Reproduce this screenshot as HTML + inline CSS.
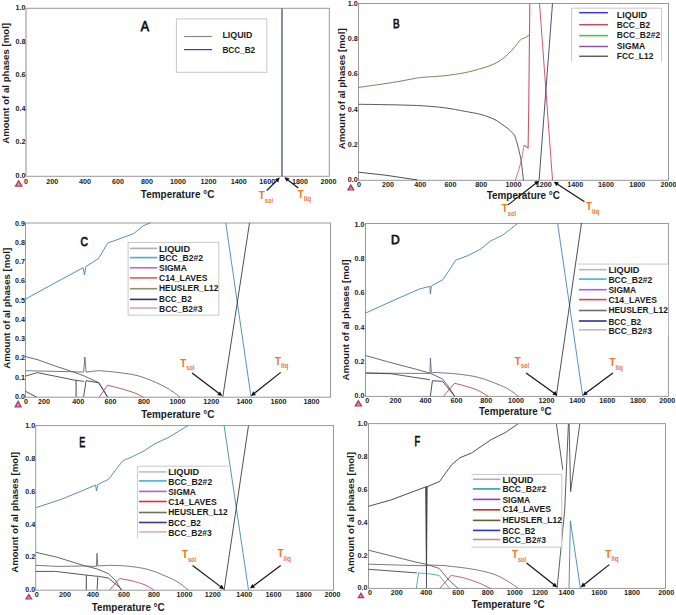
<!DOCTYPE html>
<html><head><meta charset="utf-8"><style>
html,body{margin:0;padding:0;background:#fff;width:676px;height:615px;overflow:hidden;position:relative;font-family:"Liberation Sans", sans-serif}
</style></head><body>
<svg width="676" height="615" viewBox="0 0 676 615" style="position:absolute;left:0;top:0;font-family:'Liberation Sans', sans-serif">
<rect width="676" height="615" fill="#fff"/>
<rect x="26" y="8.3" width="303.3" height="168.0" fill="none" stroke="#999999" stroke-width="1"/>
<line x1="26" y1="8.8" x2="26" y2="175.8" stroke="#c6c6c6" stroke-width="1.8"/>
<text x="25.5" y="10.25" font-size="7.2" text-anchor="end" font-weight="bold" fill="#222">1.0</text>
<text x="25.5" y="43.79" font-size="7.2" text-anchor="end" font-weight="bold" fill="#222">0.8</text>
<text x="25.5" y="77.33" font-size="7.2" text-anchor="end" font-weight="bold" fill="#222">0.6</text>
<text x="25.5" y="110.87" font-size="7.2" text-anchor="end" font-weight="bold" fill="#222">0.4</text>
<text x="25.5" y="144.41" font-size="7.2" text-anchor="end" font-weight="bold" fill="#222">0.2</text>
<text x="25.5" y="177.95" font-size="7.2" text-anchor="end" font-weight="bold" fill="#222">0.0</text>
<text x="26" y="183.75" font-size="7.2" text-anchor="middle" font-weight="bold" fill="#222">0</text>
<text x="52.2" y="183.75" font-size="7.2" text-anchor="middle" font-weight="bold" fill="#222">200</text>
<text x="85.1" y="183.75" font-size="7.2" text-anchor="middle" font-weight="bold" fill="#222">400</text>
<text x="118" y="183.75" font-size="7.2" text-anchor="middle" font-weight="bold" fill="#222">600</text>
<text x="147.1" y="183.75" font-size="7.2" text-anchor="middle" font-weight="bold" fill="#222">800</text>
<text x="178" y="183.75" font-size="7.2" text-anchor="middle" font-weight="bold" fill="#222">1000</text>
<text x="208.5" y="183.75" font-size="7.2" text-anchor="middle" font-weight="bold" fill="#222">1200</text>
<text x="238.7" y="183.75" font-size="7.2" text-anchor="middle" font-weight="bold" fill="#222">1400</text>
<text x="267.3" y="183.75" font-size="7.2" text-anchor="middle" font-weight="bold" fill="#222">1600</text>
<text x="300" y="183.75" font-size="7.2" text-anchor="middle" font-weight="bold" fill="#222">1800</text>
<text x="328.5" y="183.75" font-size="7.2" text-anchor="middle" font-weight="bold" fill="#222">2000</text>
<text transform="translate(9,83.4) rotate(-90)" x="0" y="0" font-size="9.3" text-anchor="middle" font-weight="bold" fill="#1a1a1a" textLength="120.8" lengthAdjust="spacingAndGlyphs">Amount of al phases [mol]</text>
<text x="140.8" y="197.6" font-size="10.2" text-anchor="start" font-weight="bold" fill="#1a1a1a" textLength="73.6" lengthAdjust="spacingAndGlyphs">Temperature °C</text>
<text x="140.7" y="30.7" font-size="14.24" text-anchor="start" font-weight="normal" fill="#111" textLength="8.3" lengthAdjust="spacingAndGlyphs" stroke="#111" stroke-width="0.75">A</text>
<rect x="176.4" y="18.9" width="90.4" height="53.4" fill="#fff" stroke="none"/>
<rect x="176.4" y="18.9" width="90.4" height="53.4" fill="none" stroke="#c8c8c8" stroke-width="1"/>
<line x1="184.1" y1="36.5" x2="212" y2="36.5" stroke="#8a8a8a" stroke-width="1.2"/>
<text x="222.4" y="37.8" font-size="9.5" text-anchor="start" font-weight="bold" fill="#1a1a1a" textLength="30" lengthAdjust="spacingAndGlyphs">LIQUID</text>
<line x1="184.1" y1="49.6" x2="212" y2="49.6" stroke="#3838c0" stroke-width="1.2"/>
<text x="222.4" y="52.8" font-size="9.5" text-anchor="start" font-weight="bold" fill="#1a1a1a" textLength="32.7" lengthAdjust="spacingAndGlyphs">BCC_B2</text>
<line x1="282" y1="8.3" x2="282" y2="176.3" stroke="#8a8aa8" stroke-width="1.5"/>
<line x1="282" y1="8.3" x2="282" y2="176.3" stroke="#5a5a90" stroke-width="0.7"/>
<polygon points="18.7,179.4 23,186.7 14.4,186.7" fill="#a83c5c"/>
<polygon points="18.7,182.0 20.7,185.6 16.7,185.6" fill="#dc9ab0"/>
<text x="258.7" y="199.20000000000002" font-size="11.39" text-anchor="start" font-weight="bold" fill="#e87a28" textLength="6.0" lengthAdjust="spacingAndGlyphs" stroke="#e87a28" stroke-width="0.12">T</text>
<text x="264.7" y="202.8" font-size="6.8" text-anchor="start" font-weight="bold" fill="#e87a28" textLength="8.3" lengthAdjust="spacingAndGlyphs">sol</text>
<text x="297.7" y="197.60000000000002" font-size="11.39" text-anchor="start" font-weight="bold" fill="#e87a28" textLength="6.0" lengthAdjust="spacingAndGlyphs" stroke="#e87a28" stroke-width="0.12">T</text>
<text x="303.7" y="201.20000000000002" font-size="6.8" text-anchor="start" font-weight="bold" fill="#e87a28" textLength="7.5" lengthAdjust="spacingAndGlyphs">liq</text>
<line x1="266.8" y1="190.5" x2="277.2446061234897" y2="180.1357370005372" stroke="#151515" stroke-width="1.2"/>
<polygon points="279.8,177.6 278.15482868591334,182.47272114401247 274.91472029633803,179.20749563513814" fill="#111"/>
<line x1="298.3" y1="188" x2="287.2427688684517" y2="179.40877005606322" stroke="#151515" stroke-width="1.2"/>
<polygon points="284.4,177.2 289.44358553439537,178.2061038501255 286.62126824053684,181.8385307375916" fill="#111"/>
<rect x="358.5" y="3.5" width="310.0" height="176.8" fill="none" stroke="#999999" stroke-width="1"/>
<text x="357.8" y="5.75" font-size="7.2" text-anchor="end" font-weight="bold" fill="#222">1.0</text>
<text x="357.8" y="41.09" font-size="7.2" text-anchor="end" font-weight="bold" fill="#222">0.8</text>
<text x="357.8" y="76.43" font-size="7.2" text-anchor="end" font-weight="bold" fill="#222">0.6</text>
<text x="357.8" y="111.77" font-size="7.2" text-anchor="end" font-weight="bold" fill="#222">0.4</text>
<text x="357.8" y="147.11" font-size="7.2" text-anchor="end" font-weight="bold" fill="#222">0.2</text>
<text x="357.8" y="182.45" font-size="7.2" text-anchor="end" font-weight="bold" fill="#222">0.0</text>
<text x="358.9" y="187.15" font-size="7.2" text-anchor="middle" font-weight="bold" fill="#222">0</text>
<text x="387.9" y="187.15" font-size="7.2" text-anchor="middle" font-weight="bold" fill="#222">200</text>
<text x="420.3" y="187.15" font-size="7.2" text-anchor="middle" font-weight="bold" fill="#222">400</text>
<text x="450.6" y="187.15" font-size="7.2" text-anchor="middle" font-weight="bold" fill="#222">600</text>
<text x="481.3" y="187.15" font-size="7.2" text-anchor="middle" font-weight="bold" fill="#222">800</text>
<text x="513.6" y="187.15" font-size="7.2" text-anchor="middle" font-weight="bold" fill="#222">1000</text>
<text x="543.7" y="187.15" font-size="7.2" text-anchor="middle" font-weight="bold" fill="#222">1200</text>
<text x="575.3" y="187.15" font-size="7.2" text-anchor="middle" font-weight="bold" fill="#222">1400</text>
<text x="606" y="187.15" font-size="7.2" text-anchor="middle" font-weight="bold" fill="#222">1600</text>
<text x="637.3" y="187.15" font-size="7.2" text-anchor="middle" font-weight="bold" fill="#222">1800</text>
<text x="668.6" y="187.15" font-size="7.2" text-anchor="middle" font-weight="bold" fill="#222">2000</text>
<text transform="translate(345.2,88.85000000000001) rotate(-90)" x="0" y="0" font-size="9.3" text-anchor="middle" font-weight="bold" fill="#1a1a1a" textLength="120.9" lengthAdjust="spacingAndGlyphs">Amount of al phases [mol]</text>
<text x="486.7" y="198.7" font-size="10.2" text-anchor="start" font-weight="bold" fill="#1a1a1a" textLength="73.3" lengthAdjust="spacingAndGlyphs">Temperature °C</text>
<text x="393" y="27.7" font-size="13.37" text-anchor="start" font-weight="normal" fill="#111" textLength="6.6" lengthAdjust="spacingAndGlyphs" stroke="#111" stroke-width="0.75">B</text>
<path d="M358.6,87.4 C361.62,86.98 370.23,85.85 376.7,84.9 C383.17,83.95 391.18,82.75 397.4,81.7 C403.62,80.65 409.85,79.32 414,78.6 C418.15,77.88 417.18,77.88 422.3,77.4 C427.42,76.92 437.52,76.50 444.7,75.7 C451.88,74.90 459.35,73.80 465.4,72.6 C471.45,71.40 476.90,69.67 481,68.5 C485.10,67.33 487.28,66.63 490,65.6 C492.72,64.57 494.87,63.70 497.3,62.3 C499.73,60.90 502.17,59.22 504.6,57.2 C507.03,55.18 509.95,52.22 511.9,50.2 C513.85,48.18 514.83,46.87 516.3,45.1 C517.77,43.33 519.53,40.70 520.7,39.6 C521.87,38.50 522.57,38.80 523.3,38.5 C524.03,38.20 524.18,38.35 525.1,37.8 C526.02,37.25 528.18,35.63 528.8,35.2" fill="none" stroke="#4a7a3a" stroke-width="0.85" stroke-linejoin="round"/>
<path d="M358.6,104.3 C362.43,104.35 373.33,104.45 381.6,104.6 C389.87,104.75 401.13,104.98 408.2,105.2 C415.27,105.42 417.92,105.47 424,105.9 C430.08,106.33 437.80,106.88 444.7,107.8 C451.60,108.72 459.35,110.28 465.4,111.4 C471.45,112.52 476.23,113.20 481,114.5 C485.77,115.80 490.55,117.60 494,119.2 C497.45,120.80 499.23,122.42 501.7,124.1 C504.17,125.78 506.65,127.45 508.8,129.3 C510.95,131.15 513.63,134.22 514.6,135.2" fill="none" stroke="#383850" stroke-width="0.85" stroke-linejoin="round"/>
<path d="M514.6,135.2 C515.00,136.47 516.12,139.58 517,142.8 C517.88,146.02 519.13,150.98 519.9,154.5 C520.67,158.02 521.02,159.60 521.6,163.9 C522.18,168.20 523.10,177.57 523.4,180.3" fill="none" stroke="#383850" stroke-width="0.85" stroke-linejoin="round"/>
<polyline points="358.6,172.2 387,175.4 417.6,180" fill="none" stroke="#303030" stroke-width="0.85" stroke-linejoin="round"/>
<path d="M515.2,180.3 C515.78,178.53 517.63,173.22 518.7,169.7 C519.77,166.18 520.72,163.30 521.6,159.2 C522.48,155.10 523.60,147.45 524,145.1" fill="none" stroke="#c85868" stroke-width="0.85" stroke-linejoin="round"/>
<polyline points="524,145.1 528.1,148.1 528.7,110 529.8,3.5" fill="none" stroke="#c85868" stroke-width="1.1" stroke-linejoin="round"/>
<polyline points="539.5,3.3 552.5,180" fill="none" stroke="#c04050" stroke-width="0.85" stroke-linejoin="round"/>
<polyline points="552.5,3.3 539.1,180" fill="none" stroke="#303060" stroke-width="0.85" stroke-linejoin="round"/>
<rect x="571.6" y="8.2" width="89.89999999999998" height="53.099999999999994" fill="#fff" stroke="none"/>
<line x1="571.6" y1="8.2" x2="661.5" y2="8.2" stroke="#c8c8c8" stroke-width="1"/>
<line x1="571.6" y1="8.2" x2="571.6" y2="61.3" stroke="#c8c8c8" stroke-width="1"/>
<line x1="661.5" y1="8.2" x2="661.5" y2="61.3" stroke="#c8c8c8" stroke-width="1"/>
<line x1="579.2" y1="12.7" x2="607.9" y2="12.7" stroke="#3838c8" stroke-width="1.5"/>
<text x="616.8" y="17.5" font-size="9.5" text-anchor="start" font-weight="bold" fill="#1a1a1a" textLength="30.3" lengthAdjust="spacingAndGlyphs">LIQUID</text>
<line x1="579.2" y1="24.7" x2="607.9" y2="24.7" stroke="#c84858" stroke-width="1.5"/>
<text x="616.8" y="27.6" font-size="9.5" text-anchor="start" font-weight="bold" fill="#1a1a1a" textLength="33.2" lengthAdjust="spacingAndGlyphs">BCC_B2</text>
<line x1="579.2" y1="35.6" x2="607.9" y2="35.6" stroke="#30d030" stroke-width="1.5"/>
<text x="616.8" y="38.2" font-size="9.5" text-anchor="start" font-weight="bold" fill="#1a1a1a" textLength="43.3" lengthAdjust="spacingAndGlyphs">BCC_B2#2</text>
<line x1="579.2" y1="46.5" x2="607.9" y2="46.5" stroke="#9050a8" stroke-width="1.5"/>
<text x="616.8" y="49.4" font-size="9.5" text-anchor="start" font-weight="bold" fill="#1a1a1a" textLength="28.4" lengthAdjust="spacingAndGlyphs">SIGMA</text>
<line x1="579.2" y1="56.3" x2="607.9" y2="56.3" stroke="#606050" stroke-width="1.5"/>
<text x="616.8" y="58.6" font-size="9.5" text-anchor="start" font-weight="bold" fill="#1a1a1a" textLength="36.6" lengthAdjust="spacingAndGlyphs">FCC_L12</text>
<polygon points="350.8,183.8 354.8,190.5 346.8,190.5" fill="#a83c5c"/>
<polygon points="350.8,186.4 352.5,189.4 349.1,189.4" fill="#dc9ab0"/>
<text x="501.7" y="212.20000000000002" font-size="11.39" text-anchor="start" font-weight="bold" fill="#e87a28" textLength="6.0" lengthAdjust="spacingAndGlyphs" stroke="#e87a28" stroke-width="0.12">T</text>
<text x="507.7" y="215.8" font-size="6.8" text-anchor="start" font-weight="bold" fill="#e87a28" textLength="8.3" lengthAdjust="spacingAndGlyphs">sol</text>
<text x="585.9" y="210.10000000000002" font-size="11.39" text-anchor="start" font-weight="bold" fill="#e87a28" textLength="6.0" lengthAdjust="spacingAndGlyphs" stroke="#e87a28" stroke-width="0.12">T</text>
<text x="591.9" y="213.70000000000002" font-size="6.8" text-anchor="start" font-weight="bold" fill="#e87a28" textLength="7.5" lengthAdjust="spacingAndGlyphs">liq</text>
<line x1="508" y1="204.9" x2="536.2588240055127" y2="182.91081861950468" stroke="#151515" stroke-width="1.2"/>
<polygon points="539.1,180.7 536.8820759028386,185.34013067695625 534.0571410001382,181.70973912844457" fill="#111"/>
<line x1="584.5" y1="201.8" x2="556.8118802271645" y2="183.67194764058655" stroke="#151515" stroke-width="1.2"/>
<polygon points="553.8,181.7 558.9083690606406,182.29545406228323 556.3886581865577,186.14396768588244" fill="#111"/>
<rect x="25.5" y="223" width="305.0" height="174.2" fill="none" stroke="#999999" stroke-width="1"/>
<text x="24.9" y="225.55" font-size="7.2" text-anchor="end" font-weight="bold" fill="#222">0.9</text>
<text x="24.9" y="244.82" font-size="7.2" text-anchor="end" font-weight="bold" fill="#222">0.8</text>
<text x="24.9" y="264.08" font-size="7.2" text-anchor="end" font-weight="bold" fill="#222">0.7</text>
<text x="24.9" y="283.35" font-size="7.2" text-anchor="end" font-weight="bold" fill="#222">0.6</text>
<text x="24.9" y="302.62" font-size="7.2" text-anchor="end" font-weight="bold" fill="#222">0.5</text>
<text x="24.9" y="321.88" font-size="7.2" text-anchor="end" font-weight="bold" fill="#222">0.4</text>
<text x="24.9" y="341.15" font-size="7.2" text-anchor="end" font-weight="bold" fill="#222">0.3</text>
<text x="24.9" y="360.42" font-size="7.2" text-anchor="end" font-weight="bold" fill="#222">0.2</text>
<text x="24.9" y="379.68" font-size="7.2" text-anchor="end" font-weight="bold" fill="#222">0.1</text>
<text x="24.9" y="398.95" font-size="7.2" text-anchor="end" font-weight="bold" fill="#222">0.0</text>
<text x="26" y="403.85" font-size="7.2" text-anchor="middle" font-weight="bold" fill="#222">0</text>
<text x="44" y="403.85" font-size="7.2" text-anchor="middle" font-weight="bold" fill="#222">200</text>
<text x="78.2" y="403.85" font-size="7.2" text-anchor="middle" font-weight="bold" fill="#222">400</text>
<text x="110.5" y="403.85" font-size="7.2" text-anchor="middle" font-weight="bold" fill="#222">600</text>
<text x="144" y="403.85" font-size="7.2" text-anchor="middle" font-weight="bold" fill="#222">800</text>
<text x="177.6" y="403.85" font-size="7.2" text-anchor="middle" font-weight="bold" fill="#222">1000</text>
<text x="211.2" y="403.85" font-size="7.2" text-anchor="middle" font-weight="bold" fill="#222">1200</text>
<text x="244.6" y="403.85" font-size="7.2" text-anchor="middle" font-weight="bold" fill="#222">1400</text>
<text x="278.6" y="403.85" font-size="7.2" text-anchor="middle" font-weight="bold" fill="#222">1600</text>
<text x="311.6" y="403.85" font-size="7.2" text-anchor="middle" font-weight="bold" fill="#222">1800</text>
<text transform="translate(9.8,308.35) rotate(-90)" x="0" y="0" font-size="9.3" text-anchor="middle" font-weight="bold" fill="#1a1a1a" textLength="120.9" lengthAdjust="spacingAndGlyphs">Amount of al phases [mol]</text>
<text x="141.2" y="417.9" font-size="10.2" text-anchor="start" font-weight="bold" fill="#1a1a1a" textLength="73.2" lengthAdjust="spacingAndGlyphs">Temperature °C</text>
<text x="80.6" y="245.8" font-size="13.23" text-anchor="start" font-weight="normal" fill="#111" textLength="7.5" lengthAdjust="spacingAndGlyphs" stroke="#111" stroke-width="0.75">C</text>
<polyline points="25.3,299.2 53.1,283.9 83.1,267.7 84.5,275 85.8,266.7 98.6,258.4 107.9,242.8 113.1,241.2 133.8,233.5 143.1,225.9 150.4,222.8" fill="none" stroke="#3a7aa8" stroke-width="0.85" stroke-linejoin="round"/>
<polyline points="225.8,223 251,396.8" fill="none" stroke="#3a80b0" stroke-width="0.85" stroke-linejoin="round"/>
<polyline points="249.5,223 222.8,396.8" fill="none" stroke="#303030" stroke-width="0.85" stroke-linejoin="round"/>
<polyline points="25.5,356.6 38,359.8 55.2,366 74,372.2 84.3,376 98.7,382.7" fill="none" stroke="#505048" stroke-width="0.85" stroke-linejoin="round"/>
<polyline points="98.7,382.7 107.5,396.8" fill="none" stroke="#505040" stroke-width="0.85" stroke-linejoin="round"/>
<polyline points="25.5,370.7 74,371.8 83.6,372.1 84.9,357 86.1,372.1 98.7,370.6" fill="none" stroke="#6a5878" stroke-width="0.85" stroke-linejoin="round"/>
<path d="M98.7,370.6 C101.93,370.92 111.35,371.58 118.1,372.5 C124.85,373.42 132.17,374.10 139.2,376.1 C146.23,378.10 154.83,381.98 160.3,384.5 C165.77,387.02 168.72,389.08 172,391.2 C175.28,393.32 178.67,396.20 180,397.2" fill="none" stroke="#6a5878" stroke-width="0.85" stroke-linejoin="round"/>
<polyline points="25.5,376.1 37.3,372.6 74,380 84,381.4" fill="none" stroke="#3a3a4a" stroke-width="0.85" stroke-linejoin="round"/>
<polyline points="86.1,380.7 98.7,382.7 107.5,396.8" fill="none" stroke="#303048" stroke-width="0.85" stroke-linejoin="round"/>
<line x1="76.1" y1="380.2" x2="76.1" y2="396.8" stroke="#303030" stroke-width="0.9"/>
<polyline points="83.6,396.8 86.1,380.7" fill="none" stroke="#303048" stroke-width="0.85" stroke-linejoin="round"/>
<polyline points="99.1,397.2 107.6,385.2" fill="none" stroke="#b04050" stroke-width="0.85" stroke-linejoin="round"/>
<path d="M107.6,385.2 C110.52,385.97 120.37,388.42 125.1,389.8 C129.83,391.18 132.95,392.27 136,393.5 C139.05,394.73 142.17,396.58 143.4,397.2" fill="none" stroke="#b04050" stroke-width="0.85" stroke-linejoin="round"/>
<polyline points="25.5,391.3 36.5,397" fill="none" stroke="#303030" stroke-width="0.85" stroke-linejoin="round"/>
<rect x="128.1" y="242.4" width="90.70000000000002" height="72.79999999999998" fill="#fff" stroke="none"/>
<rect x="128.1" y="242.4" width="90.70000000000002" height="72.79999999999998" fill="none" stroke="#c8c8c8" stroke-width="1"/>
<line x1="129.9" y1="248.4" x2="157.3" y2="248.4" stroke="#b0b0b0" stroke-width="1.6"/>
<text x="159" y="251.5" font-size="9.1" text-anchor="start" font-weight="bold" fill="#1a1a1a" textLength="31" lengthAdjust="spacingAndGlyphs">LIQUID</text>
<line x1="129.9" y1="257.6" x2="157.3" y2="257.6" stroke="#40b0e0" stroke-width="1.6"/>
<text x="159" y="261.1" font-size="9.1" text-anchor="start" font-weight="bold" fill="#1a1a1a" textLength="44" lengthAdjust="spacingAndGlyphs">BCC_B2#2</text>
<line x1="129.9" y1="267.8" x2="157.3" y2="267.8" stroke="#b070c8" stroke-width="1.6"/>
<text x="159" y="270.9" font-size="9.1" text-anchor="start" font-weight="bold" fill="#1a1a1a" textLength="27.8" lengthAdjust="spacingAndGlyphs">SIGMA</text>
<line x1="129.9" y1="277.9" x2="157.3" y2="277.9" stroke="#e05868" stroke-width="1.6"/>
<text x="159" y="280.8" font-size="9.1" text-anchor="start" font-weight="bold" fill="#1a1a1a" textLength="48.5" lengthAdjust="spacingAndGlyphs">C14_LAVES</text>
<line x1="129.9" y1="288.7" x2="157.3" y2="288.7" stroke="#909070" stroke-width="1.6"/>
<text x="159" y="291.2" font-size="9.1" text-anchor="start" font-weight="bold" fill="#1a1a1a" textLength="59.5" lengthAdjust="spacingAndGlyphs">HEUSLER_L12</text>
<line x1="129.9" y1="299.4" x2="157.3" y2="299.4" stroke="#303080" stroke-width="1.6"/>
<text x="159" y="302.3" font-size="9.1" text-anchor="start" font-weight="bold" fill="#1a1a1a" textLength="32.7" lengthAdjust="spacingAndGlyphs">BCC_B2</text>
<line x1="129.9" y1="308" x2="157.3" y2="308" stroke="#d8a8a8" stroke-width="1.6"/>
<text x="159" y="311.6" font-size="9.1" text-anchor="start" font-weight="bold" fill="#1a1a1a" textLength="43.5" lengthAdjust="spacingAndGlyphs">BCC_B2#3</text>
<polygon points="18.1,400.1 22.1,407.4 14.1,407.4" fill="#a83c5c"/>
<polygon points="18.1,402.70000000000005 19.8,406.29999999999995 16.4,406.29999999999995" fill="#dc9ab0"/>
<text x="180.3" y="366.8" font-size="11.39" text-anchor="start" font-weight="bold" fill="#e87a28" textLength="6.0" lengthAdjust="spacingAndGlyphs" stroke="#e87a28" stroke-width="0.12">T</text>
<text x="186.3" y="370.40000000000003" font-size="6.8" text-anchor="start" font-weight="bold" fill="#e87a28" textLength="8.3" lengthAdjust="spacingAndGlyphs">sol</text>
<text x="275.0" y="364.8" font-size="11.39" text-anchor="start" font-weight="bold" fill="#e87a28" textLength="6.0" lengthAdjust="spacingAndGlyphs" stroke="#e87a28" stroke-width="0.12">T</text>
<text x="281.0" y="368.40000000000003" font-size="6.8" text-anchor="start" font-weight="bold" fill="#e87a28" textLength="7.5" lengthAdjust="spacingAndGlyphs">liq</text>
<line x1="192.1" y1="372.9" x2="219.44058057307663" y2="393.8128281866911" stroke="#151515" stroke-width="1.2"/>
<polygon points="222.3,396 217.2489376293172,395.0321317613063 220.04365716854528,391.37842916023754" fill="#111"/>
<line x1="280.7" y1="372.4" x2="253.81851926849743" y2="393.76036852738923" stroke="#151515" stroke-width="1.2"/>
<polygon points="251,396 253.17056562446763,391.337528030124 256.0323169505814,394.9389693176485" fill="#111"/>
<rect x="365.5" y="223.5" width="302.9" height="172.89999999999998" fill="none" stroke="#999999" stroke-width="1"/>
<text x="364.6" y="226.75" font-size="7.2" text-anchor="end" font-weight="bold" fill="#222">1.0</text>
<text x="364.6" y="261.05" font-size="7.2" text-anchor="end" font-weight="bold" fill="#222">0.8</text>
<text x="364.6" y="295.35" font-size="7.2" text-anchor="end" font-weight="bold" fill="#222">0.6</text>
<text x="364.6" y="329.65" font-size="7.2" text-anchor="end" font-weight="bold" fill="#222">0.4</text>
<text x="364.6" y="363.95" font-size="7.2" text-anchor="end" font-weight="bold" fill="#222">0.2</text>
<text x="364.6" y="398.25" font-size="7.2" text-anchor="end" font-weight="bold" fill="#222">0.0</text>
<text x="367.2" y="403.05" font-size="7.2" text-anchor="middle" font-weight="bold" fill="#222">0</text>
<text x="395.5" y="403.05" font-size="7.2" text-anchor="middle" font-weight="bold" fill="#222">200</text>
<text x="425.6" y="403.05" font-size="7.2" text-anchor="middle" font-weight="bold" fill="#222">400</text>
<text x="456.6" y="403.05" font-size="7.2" text-anchor="middle" font-weight="bold" fill="#222">600</text>
<text x="486.2" y="403.05" font-size="7.2" text-anchor="middle" font-weight="bold" fill="#222">800</text>
<text x="516" y="403.05" font-size="7.2" text-anchor="middle" font-weight="bold" fill="#222">1000</text>
<text x="546.6" y="403.05" font-size="7.2" text-anchor="middle" font-weight="bold" fill="#222">1200</text>
<text x="577.3" y="403.05" font-size="7.2" text-anchor="middle" font-weight="bold" fill="#222">1400</text>
<text x="607.3" y="403.05" font-size="7.2" text-anchor="middle" font-weight="bold" fill="#222">1600</text>
<text x="638" y="403.05" font-size="7.2" text-anchor="middle" font-weight="bold" fill="#222">1800</text>
<text x="667.2" y="403.05" font-size="7.2" text-anchor="middle" font-weight="bold" fill="#222">2000</text>
<text transform="translate(349.4,319.95) rotate(-90)" x="0" y="0" font-size="9.3" text-anchor="middle" font-weight="bold" fill="#1a1a1a" textLength="120.9" lengthAdjust="spacingAndGlyphs">Amount of al phases [mol]</text>
<text x="479" y="414.8" font-size="10.2" text-anchor="start" font-weight="bold" fill="#1a1a1a" textLength="72.5" lengthAdjust="spacingAndGlyphs">Temperature °C</text>
<text x="391" y="243.95" font-size="13.23" text-anchor="start" font-weight="normal" fill="#111" textLength="8.7" lengthAdjust="spacingAndGlyphs" stroke="#111" stroke-width="0.75">D</text>
<polyline points="365.5,313.1 392.2,301 419.8,288.9 429.9,286.4 430.4,294 431.4,285.9 443,279.6 448.8,270.8 455.6,260.3 467.6,255.7 480.2,249.4 490.3,241.1 502.8,235.1 517.9,223.3" fill="none" stroke="#3a7aa8" stroke-width="0.85" stroke-linejoin="round"/>
<polyline points="557.6,223.1 582.7,396" fill="none" stroke="#3a80b0" stroke-width="0.85" stroke-linejoin="round"/>
<polyline points="581.5,223.1 556.3,396" fill="none" stroke="#303030" stroke-width="0.85" stroke-linejoin="round"/>
<polyline points="365.5,355.5 387.4,361.7 414,368.7 429.9,373.1 442.5,378.9" fill="none" stroke="#505048" stroke-width="0.85" stroke-linejoin="round"/>
<polyline points="442.5,378.9 447.5,385.2 454.6,396" fill="none" stroke="#505040" stroke-width="0.85" stroke-linejoin="round"/>
<polyline points="365.5,373 414,373.4 429.9,373.4 430.4,358 431.4,372.8 437.5,372.4" fill="none" stroke="#705a7c" stroke-width="0.85" stroke-linejoin="round"/>
<path d="M437.5,372.6 C440.93,372.85 451.15,373.27 458.1,374.1 C465.05,374.93 472.17,375.73 479.2,377.6 C486.23,379.47 495.08,383.15 500.3,385.3 C505.52,387.45 507.47,388.65 510.5,390.5 C513.53,392.35 517.17,395.42 518.5,396.4" fill="none" stroke="#6a5878" stroke-width="0.85" stroke-linejoin="round"/>
<polyline points="365.5,373 391.3,373.8 414,377.3 429.9,379.7" fill="none" stroke="#3a3a4a" stroke-width="0.85" stroke-linejoin="round"/>
<polyline points="432.4,380.7 442.5,381.4 454.6,396" fill="none" stroke="#303048" stroke-width="0.85" stroke-linejoin="round"/>
<polyline points="430.4,396 432.4,380.7" fill="none" stroke="#303048" stroke-width="0.85" stroke-linejoin="round"/>
<polyline points="443.4,396.4 454.6,383.2" fill="none" stroke="#b04050" stroke-width="0.85" stroke-linejoin="round"/>
<path d="M454.6,383.2 C457.53,384.02 467.80,386.63 472.2,388.1 C476.60,389.57 478.32,390.62 481,392 C483.68,393.38 487.08,395.67 488.3,396.4" fill="none" stroke="#b04050" stroke-width="0.85" stroke-linejoin="round"/>
<rect x="577.7" y="264.1" width="90.5" height="71.89999999999998" fill="#fff" stroke="none"/>
<line x1="577.7" y1="264.1" x2="668.2" y2="264.1" stroke="#c8c8c8" stroke-width="1"/>
<line x1="578.9" y1="269.7" x2="606.6" y2="269.7" stroke="#b8b8b8" stroke-width="1.6"/>
<text x="608.4" y="273.2" font-size="9.1" text-anchor="start" font-weight="bold" fill="#1a1a1a" textLength="31" lengthAdjust="spacingAndGlyphs">LIQUID</text>
<line x1="578.9" y1="279.1" x2="606.6" y2="279.1" stroke="#40b0e0" stroke-width="1.6"/>
<text x="608.4" y="282.6" font-size="9.1" text-anchor="start" font-weight="bold" fill="#1a1a1a" textLength="44" lengthAdjust="spacingAndGlyphs">BCC_B2#2</text>
<line x1="578.9" y1="289.7" x2="606.6" y2="289.7" stroke="#b060d0" stroke-width="1.6"/>
<text x="608.4" y="292.6" font-size="9.1" text-anchor="start" font-weight="bold" fill="#1a1a1a" textLength="27.8" lengthAdjust="spacingAndGlyphs">SIGMA</text>
<line x1="578.9" y1="299.6" x2="606.6" y2="299.6" stroke="#e04050" stroke-width="1.6"/>
<text x="608.4" y="302.7" font-size="9.1" text-anchor="start" font-weight="bold" fill="#1a1a1a" textLength="48.5" lengthAdjust="spacingAndGlyphs">C14_LAVES</text>
<line x1="578.9" y1="310.5" x2="606.6" y2="310.5" stroke="#707060" stroke-width="1.6"/>
<text x="608.4" y="312.8" font-size="9.1" text-anchor="start" font-weight="bold" fill="#1a1a1a" textLength="59.5" lengthAdjust="spacingAndGlyphs">HEUSLER_L12</text>
<line x1="578.9" y1="321" x2="606.6" y2="321" stroke="#303088" stroke-width="1.6"/>
<text x="608.4" y="324.5" font-size="9.1" text-anchor="start" font-weight="bold" fill="#1a1a1a" textLength="32.7" lengthAdjust="spacingAndGlyphs">BCC_B2</text>
<line x1="578.9" y1="329.8" x2="606.6" y2="329.8" stroke="#d8b0b0" stroke-width="1.6"/>
<text x="608.4" y="333.6" font-size="9.1" text-anchor="start" font-weight="bold" fill="#1a1a1a" textLength="43.5" lengthAdjust="spacingAndGlyphs">BCC_B2#3</text>
<polygon points="358.35,399.6 362.5,406.5 354.2,406.5" fill="#a83c5c"/>
<polygon points="358.35,402.20000000000005 360.2,405.4 356.5,405.4" fill="#dc9ab0"/>
<text x="514.6999999999999" y="364.8" font-size="11.39" text-anchor="start" font-weight="bold" fill="#e87a28" textLength="6.0" lengthAdjust="spacingAndGlyphs" stroke="#e87a28" stroke-width="0.12">T</text>
<text x="520.6999999999999" y="368.40000000000003" font-size="6.8" text-anchor="start" font-weight="bold" fill="#e87a28" textLength="8.3" lengthAdjust="spacingAndGlyphs">sol</text>
<text x="609.5" y="366.1" font-size="11.39" text-anchor="start" font-weight="bold" fill="#e87a28" textLength="6.0" lengthAdjust="spacingAndGlyphs" stroke="#e87a28" stroke-width="0.12">T</text>
<text x="615.5" y="369.70000000000005" font-size="6.8" text-anchor="start" font-weight="bold" fill="#e87a28" textLength="7.5" lengthAdjust="spacingAndGlyphs">liq</text>
<line x1="526.1" y1="372.9" x2="554.6749579116838" y2="393.4013983747318" stroke="#151515" stroke-width="1.2"/>
<polygon points="557.6,395.5 552.5216729598968,394.6872303685816 555.2032194810728,390.94967658906637" fill="#111"/>
<line x1="612.9" y1="372.9" x2="585.5822889414055" y2="393.3430552955045" stroke="#151515" stroke-width="1.2"/>
<polygon points="582.7,395.5 585.0048767528127,390.90244160946884 587.7609727641126,394.58536636793144" fill="#111"/>
<rect x="35.7" y="425.6" width="297.8" height="164.60000000000002" fill="none" stroke="#999999" stroke-width="1"/>
<text x="35.2" y="428.45" font-size="7.2" text-anchor="end" font-weight="bold" fill="#222">1.0</text>
<text x="35.2" y="461.19" font-size="7.2" text-anchor="end" font-weight="bold" fill="#222">0.8</text>
<text x="35.2" y="493.93" font-size="7.2" text-anchor="end" font-weight="bold" fill="#222">0.6</text>
<text x="35.2" y="526.67" font-size="7.2" text-anchor="end" font-weight="bold" fill="#222">0.4</text>
<text x="35.2" y="559.41" font-size="7.2" text-anchor="end" font-weight="bold" fill="#222">0.2</text>
<text x="35.2" y="592.15" font-size="7.2" text-anchor="end" font-weight="bold" fill="#222">0.0</text>
<text x="36.7" y="596.95" font-size="7.2" text-anchor="middle" font-weight="bold" fill="#222">0</text>
<text x="64.9" y="596.95" font-size="7.2" text-anchor="middle" font-weight="bold" fill="#222">200</text>
<text x="93" y="596.95" font-size="7.2" text-anchor="middle" font-weight="bold" fill="#222">400</text>
<text x="124.1" y="596.95" font-size="7.2" text-anchor="middle" font-weight="bold" fill="#222">600</text>
<text x="154" y="596.95" font-size="7.2" text-anchor="middle" font-weight="bold" fill="#222">800</text>
<text x="184.5" y="596.95" font-size="7.2" text-anchor="middle" font-weight="bold" fill="#222">1000</text>
<text x="212.8" y="596.95" font-size="7.2" text-anchor="middle" font-weight="bold" fill="#222">1200</text>
<text x="244.2" y="596.95" font-size="7.2" text-anchor="middle" font-weight="bold" fill="#222">1400</text>
<text x="273.5" y="596.95" font-size="7.2" text-anchor="middle" font-weight="bold" fill="#222">1600</text>
<text x="303.7" y="596.95" font-size="7.2" text-anchor="middle" font-weight="bold" fill="#222">1800</text>
<text x="332.5" y="596.95" font-size="7.2" text-anchor="middle" font-weight="bold" fill="#222">2000</text>
<text transform="translate(18.2,512.4) rotate(-90)" x="0" y="0" font-size="9.3" text-anchor="middle" font-weight="bold" fill="#1a1a1a" textLength="120.8" lengthAdjust="spacingAndGlyphs">Amount of al phases [mol]</text>
<text x="91.8" y="610.6" font-size="10.2" text-anchor="start" font-weight="bold" fill="#1a1a1a" textLength="72.9" lengthAdjust="spacingAndGlyphs">Temperature °C</text>
<text x="79.2" y="446.7" font-size="14.53" text-anchor="start" font-weight="normal" fill="#111" textLength="6.0" lengthAdjust="spacingAndGlyphs" stroke="#111" stroke-width="0.75">E</text>
<polyline points="36.2,507.6 61.4,499.3 95.7,485.1 96.4,491 98.1,484.4 108.7,479.2 115.8,469.7 122.9,460.7 132.4,456.7 144.2,450.8 154.9,443.7 167.9,437.8 188,425.6" fill="none" stroke="#3a7aa8" stroke-width="0.85" stroke-linejoin="round"/>
<polyline points="224.1,425.6 248.5,590" fill="none" stroke="#3a80b0" stroke-width="0.85" stroke-linejoin="round"/>
<polyline points="248.5,425.6 224.1,590" fill="none" stroke="#303030" stroke-width="0.85" stroke-linejoin="round"/>
<polyline points="35.9,552.3 56.9,557.2 84,565.6 97,568.9 108.5,573.7" fill="none" stroke="#4c4c44" stroke-width="0.85" stroke-linejoin="round"/>
<polyline points="108.5,573.7 116,581 121,589.8" fill="none" stroke="#4c4c44" stroke-width="0.85" stroke-linejoin="round"/>
<polyline points="35.9,565.3 56.9,566.4 84,566 96.4,566.4 97,553.3 97.8,566 108.5,565.3" fill="none" stroke="#6a5a7a" stroke-width="0.85" stroke-linejoin="round"/>
<path d="M108.5,565.3 C111.77,565.45 121.32,565.45 128.1,566.2 C134.88,566.95 142.17,567.80 149.2,569.8 C156.23,571.80 165.17,575.92 170.3,578.2 C175.43,580.48 176.97,581.50 180,583.5 C183.03,585.50 187.08,589.08 188.5,590.2" fill="none" stroke="#6a5a7a" stroke-width="0.85" stroke-linejoin="round"/>
<polyline points="35.9,571.4 55.4,571.4 84,574.8 97,576.3" fill="none" stroke="#3a3a4a" stroke-width="0.85" stroke-linejoin="round"/>
<polyline points="98.5,576.3 108.5,578.1 120,587.7 122,590" fill="none" stroke="#3a3a4a" stroke-width="0.85" stroke-linejoin="round"/>
<line x1="86.3" y1="575.2" x2="86.3" y2="589.8" stroke="#303030" stroke-width="0.9"/>
<polyline points="97.1,589.8 97.9,575.5" fill="none" stroke="#303048" stroke-width="0.85" stroke-linejoin="round"/>
<polyline points="109.6,590 119.6,578.5 130,580.3" fill="none" stroke="#b04050" stroke-width="0.85" stroke-linejoin="round"/>
<path d="M130,580.3 C132.33,581.00 140.05,582.92 144,584.5 C147.95,586.08 152.08,588.92 153.7,589.8" fill="none" stroke="#b04050" stroke-width="0.85" stroke-linejoin="round"/>
<rect x="137.6" y="466.2" width="90.80000000000001" height="72.09999999999997" fill="#fff" stroke="none"/>
<line x1="137.6" y1="466.2" x2="228.4" y2="466.2" stroke="#c8c8c8" stroke-width="1"/>
<line x1="137.6" y1="466.2" x2="137.6" y2="538.3" stroke="#c8c8c8" stroke-width="1"/>
<line x1="139" y1="471.9" x2="166.7" y2="471.9" stroke="#c0c0c0" stroke-width="1.6"/>
<text x="168.2" y="475.2" font-size="9.1" text-anchor="start" font-weight="bold" fill="#1a1a1a" textLength="31" lengthAdjust="spacingAndGlyphs">LIQUID</text>
<line x1="139" y1="480.9" x2="166.7" y2="480.9" stroke="#40b0e0" stroke-width="1.6"/>
<text x="168.2" y="484.8" font-size="9.1" text-anchor="start" font-weight="bold" fill="#1a1a1a" textLength="44" lengthAdjust="spacingAndGlyphs">BCC_B2#2</text>
<line x1="139" y1="491.4" x2="166.7" y2="491.4" stroke="#b060d0" stroke-width="1.6"/>
<text x="168.2" y="494.6" font-size="9.1" text-anchor="start" font-weight="bold" fill="#1a1a1a" textLength="27.8" lengthAdjust="spacingAndGlyphs">SIGMA</text>
<line x1="139" y1="501.5" x2="166.7" y2="501.5" stroke="#e03040" stroke-width="1.6"/>
<text x="168.2" y="504.6" font-size="9.1" text-anchor="start" font-weight="bold" fill="#1a1a1a" textLength="48.5" lengthAdjust="spacingAndGlyphs">C14_LAVES</text>
<line x1="139" y1="512.5" x2="166.7" y2="512.5" stroke="#707060" stroke-width="1.6"/>
<text x="168.2" y="514.9" font-size="9.1" text-anchor="start" font-weight="bold" fill="#1a1a1a" textLength="59.5" lengthAdjust="spacingAndGlyphs">HEUSLER_L12</text>
<line x1="139" y1="522.5" x2="166.7" y2="522.5" stroke="#383890" stroke-width="1.6"/>
<text x="168.2" y="526.4" font-size="9.1" text-anchor="start" font-weight="bold" fill="#1a1a1a" textLength="32.7" lengthAdjust="spacingAndGlyphs">BCC_B2</text>
<line x1="139" y1="531.9" x2="166.7" y2="531.9" stroke="#d8b0b0" stroke-width="1.6"/>
<text x="168.2" y="535.5" font-size="9.1" text-anchor="start" font-weight="bold" fill="#1a1a1a" textLength="43.5" lengthAdjust="spacingAndGlyphs">BCC_B2#3</text>
<polygon points="28.8,593.3 32.7,599.5 24.9,599.5" fill="#a83c5c"/>
<polygon points="28.8,595.9 30.400000000000002,598.4 27.2,598.4" fill="#dc9ab0"/>
<text x="181.9" y="558.0999999999999" font-size="11.39" text-anchor="start" font-weight="bold" fill="#e87a28" textLength="6.0" lengthAdjust="spacingAndGlyphs" stroke="#e87a28" stroke-width="0.12">T</text>
<text x="187.9" y="561.6999999999999" font-size="6.8" text-anchor="start" font-weight="bold" fill="#e87a28" textLength="8.3" lengthAdjust="spacingAndGlyphs">sol</text>
<text x="277.5" y="557.3" font-size="11.39" text-anchor="start" font-weight="bold" fill="#e87a28" textLength="6.0" lengthAdjust="spacingAndGlyphs" stroke="#e87a28" stroke-width="0.12">T</text>
<text x="283.5" y="560.9" font-size="6.8" text-anchor="start" font-weight="bold" fill="#e87a28" textLength="7.5" lengthAdjust="spacingAndGlyphs">liq</text>
<line x1="192.6" y1="565.4" x2="221.23206260177926" y2="587.1240094026198" stroke="#151515" stroke-width="1.2"/>
<polygon points="224.1,589.3 219.04519710950285,588.3518609077663 221.8256295394886,584.687274232262" fill="#111"/>
<line x1="280.7" y1="565.4" x2="252.87662324905153" y2="586.335504981984" stroke="#151515" stroke-width="1.2"/>
<polygon points="250,588.5 252.29281344561122,583.8964137345299 255.05855707974274,587.5720989972069" fill="#111"/>
<rect x="368.5" y="423.6" width="297.0" height="164.79999999999995" fill="none" stroke="#999999" stroke-width="1"/>
<text x="367.6" y="426.25" font-size="7.2" text-anchor="end" font-weight="bold" fill="#222">1.0</text>
<text x="367.6" y="459.09" font-size="7.2" text-anchor="end" font-weight="bold" fill="#222">0.8</text>
<text x="367.6" y="491.93" font-size="7.2" text-anchor="end" font-weight="bold" fill="#222">0.6</text>
<text x="367.6" y="524.77" font-size="7.2" text-anchor="end" font-weight="bold" fill="#222">0.4</text>
<text x="367.6" y="557.61" font-size="7.2" text-anchor="end" font-weight="bold" fill="#222">0.2</text>
<text x="367.6" y="590.45" font-size="7.2" text-anchor="end" font-weight="bold" fill="#222">0.0</text>
<text x="369.9" y="594.95" font-size="7.2" text-anchor="middle" font-weight="bold" fill="#222">0</text>
<text x="396.7" y="594.95" font-size="7.2" text-anchor="middle" font-weight="bold" fill="#222">200</text>
<text x="426.3" y="594.95" font-size="7.2" text-anchor="middle" font-weight="bold" fill="#222">400</text>
<text x="458.2" y="594.95" font-size="7.2" text-anchor="middle" font-weight="bold" fill="#222">600</text>
<text x="487.8" y="594.95" font-size="7.2" text-anchor="middle" font-weight="bold" fill="#222">800</text>
<text x="514.7" y="594.95" font-size="7.2" text-anchor="middle" font-weight="bold" fill="#222">1000</text>
<text x="540" y="594.95" font-size="7.2" text-anchor="middle" font-weight="bold" fill="#222">1200</text>
<text x="566.5" y="594.95" font-size="7.2" text-anchor="middle" font-weight="bold" fill="#222">1400</text>
<text x="599.3" y="594.95" font-size="7.2" text-anchor="middle" font-weight="bold" fill="#222">1600</text>
<text x="632" y="594.95" font-size="7.2" text-anchor="middle" font-weight="bold" fill="#222">1800</text>
<text x="666.2" y="594.95" font-size="7.2" text-anchor="middle" font-weight="bold" fill="#222">2000</text>
<text transform="translate(354.4,512.5) rotate(-90)" x="0" y="0" font-size="9.3" text-anchor="middle" font-weight="bold" fill="#1a1a1a" textLength="121" lengthAdjust="spacingAndGlyphs">Amount of al phases [mol]</text>
<text x="471.7" y="608.2" font-size="10.2" text-anchor="start" font-weight="bold" fill="#1a1a1a" textLength="72.9" lengthAdjust="spacingAndGlyphs">Temperature °C</text>
<text x="414.5" y="445.7" font-size="14.24" text-anchor="start" font-weight="normal" fill="#111" textLength="5.7" lengthAdjust="spacingAndGlyphs" stroke="#111" stroke-width="0.75">F</text>
<polyline points="368.4,506.3 390.8,500 425.2,487.1 428.3,486.2 439.5,481.5 451.8,464.5 460,457.7 471.4,453.1 491.1,439.7 505.6,432.4 518,423.9" fill="none" stroke="#303030" stroke-width="0.85" stroke-linejoin="round"/>
<polygon points="425.2,487.1 427.6,486.6 426.9,588.2 426.1,588.2" fill="#40405a"/>
<polyline points="556.4,423.9 562.8,469.7" fill="none" stroke="#404040" stroke-width="0.85" stroke-linejoin="round"/>
<polyline points="568.4,423.9 564.7,510 557.1,588.2" fill="none" stroke="#404040" stroke-width="0.85" stroke-linejoin="round"/>
<polyline points="569.1,423.9 570.6,491.6 579.8,423.9" fill="none" stroke="#404040" stroke-width="0.85" stroke-linejoin="round"/>
<polyline points="569,588.2 570.4,520.8 580.4,588.2" fill="none" stroke="#3a80b0" stroke-width="0.85" stroke-linejoin="round"/>
<polyline points="368.5,550.2 417,562.4 426.4,564.3 439.1,568.4 449.7,581 458.1,588.4" fill="none" stroke="#5a5048" stroke-width="0.85" stroke-linejoin="round"/>
<polyline points="368.5,564.2 417,565.6 426.4,565.6 430,565.1 444,565.5" fill="none" stroke="#705a7c" stroke-width="0.85" stroke-linejoin="round"/>
<path d="M444,565.5 C448.70,566.10 464.00,567.68 472.2,569.1 C480.40,570.52 487.35,572.02 493.2,574 C499.05,575.98 503.08,578.60 507.3,581 C511.52,583.40 516.63,587.17 518.5,588.4" fill="none" stroke="#705a7c" stroke-width="0.85" stroke-linejoin="round"/>
<polyline points="368.5,569.3 417,572.9" fill="none" stroke="#3a3a4a" stroke-width="0.85" stroke-linejoin="round"/>
<polyline points="416.3,588.4 418.6,572.9 430,574 439.1,575.4 449.7,588.4" fill="none" stroke="#4a98b8" stroke-width="0.85" stroke-linejoin="round"/>
<polyline points="439.8,588.4 451.1,575.4" fill="none" stroke="#b04858" stroke-width="0.85" stroke-linejoin="round"/>
<path d="M451.1,575.4 C453.43,575.87 460.42,576.92 465.1,578.2 C469.78,579.48 474.98,581.40 479.2,583.1 C483.42,584.80 488.53,587.52 490.4,588.4" fill="none" stroke="#b04858" stroke-width="0.85" stroke-linejoin="round"/>
<rect x="471.5" y="474.4" width="90.29999999999995" height="72.70000000000005" fill="#fff" stroke="none"/>
<line x1="471.5" y1="474.4" x2="561.8" y2="474.4" stroke="#c8c8c8" stroke-width="1"/>
<line x1="471.5" y1="547.1" x2="561.8" y2="547.1" stroke="#c8c8c8" stroke-width="1"/>
<line x1="561.8" y1="474.4" x2="561.8" y2="547.1" stroke="#c8c8c8" stroke-width="1"/>
<line x1="472.9" y1="479.3" x2="500.3" y2="479.3" stroke="#b0b0b0" stroke-width="1.6"/>
<text x="502.4" y="483" font-size="9.1" text-anchor="start" font-weight="bold" fill="#1a1a1a" textLength="31" lengthAdjust="spacingAndGlyphs">LIQUID</text>
<line x1="472.9" y1="488.9" x2="500.3" y2="488.9" stroke="#30a0b0" stroke-width="1.6"/>
<text x="502.4" y="492.4" font-size="9.1" text-anchor="start" font-weight="bold" fill="#1a1a1a" textLength="44" lengthAdjust="spacingAndGlyphs">BCC_B2#2</text>
<line x1="472.9" y1="499.4" x2="500.3" y2="499.4" stroke="#a030e0" stroke-width="1.6"/>
<text x="502.4" y="502.6" font-size="9.1" text-anchor="start" font-weight="bold" fill="#1a1a1a" textLength="27.8" lengthAdjust="spacingAndGlyphs">SIGMA</text>
<line x1="472.9" y1="509.8" x2="500.3" y2="509.8" stroke="#c03030" stroke-width="1.6"/>
<text x="502.4" y="512.2" font-size="9.1" text-anchor="start" font-weight="bold" fill="#1a1a1a" textLength="48.5" lengthAdjust="spacingAndGlyphs">C14_LAVES</text>
<line x1="472.9" y1="520.4" x2="500.3" y2="520.4" stroke="#606030" stroke-width="1.6"/>
<text x="502.4" y="523" font-size="9.1" text-anchor="start" font-weight="bold" fill="#1a1a1a" textLength="59.5" lengthAdjust="spacingAndGlyphs">HEUSLER_L12</text>
<line x1="472.9" y1="530.4" x2="500.3" y2="530.4" stroke="#3030e0" stroke-width="1.6"/>
<text x="502.4" y="534.1" font-size="9.1" text-anchor="start" font-weight="bold" fill="#1a1a1a" textLength="32.7" lengthAdjust="spacingAndGlyphs">BCC_B2</text>
<line x1="472.9" y1="539.5" x2="500.3" y2="539.5" stroke="#c09090" stroke-width="1.6"/>
<text x="502.4" y="543.3" font-size="9.1" text-anchor="start" font-weight="bold" fill="#1a1a1a" textLength="43.5" lengthAdjust="spacingAndGlyphs">BCC_B2#3</text>
<polygon points="360.95,592.1 364.7,598.2 357.2,598.2" fill="#a83c5c"/>
<polygon points="360.95,594.7 362.4,597.1 359.5,597.1" fill="#dc9ab0"/>
<text x="511.9" y="557.9" font-size="11.39" text-anchor="start" font-weight="bold" fill="#e87a28" textLength="6.0" lengthAdjust="spacingAndGlyphs" stroke="#e87a28" stroke-width="0.12">T</text>
<text x="517.9" y="561.5" font-size="6.8" text-anchor="start" font-weight="bold" fill="#e87a28" textLength="8.3" lengthAdjust="spacingAndGlyphs">sol</text>
<text x="605.3" y="557.8" font-size="11.39" text-anchor="start" font-weight="bold" fill="#e87a28" textLength="6.0" lengthAdjust="spacingAndGlyphs" stroke="#e87a28" stroke-width="0.12">T</text>
<text x="611.3" y="561.4" font-size="6.8" text-anchor="start" font-weight="bold" fill="#e87a28" textLength="7.5" lengthAdjust="spacingAndGlyphs">liq</text>
<line x1="526.5" y1="563" x2="554.3772485978252" y2="585.0657049161938" stroke="#151515" stroke-width="1.2"/>
<polygon points="557.2,587.3 552.1656846825672,586.2484918998593 555.0206172896528,582.6416428859693" fill="#111"/>
<line x1="609.3" y1="564.6" x2="583.5245664601634" y2="584.9679999300807" stroke="#151515" stroke-width="1.2"/>
<polygon points="580.7,587.2 582.8831682099826,582.5434157833321 585.735168299324,586.1525840379853" fill="#111"/>
</svg>
</body></html>
